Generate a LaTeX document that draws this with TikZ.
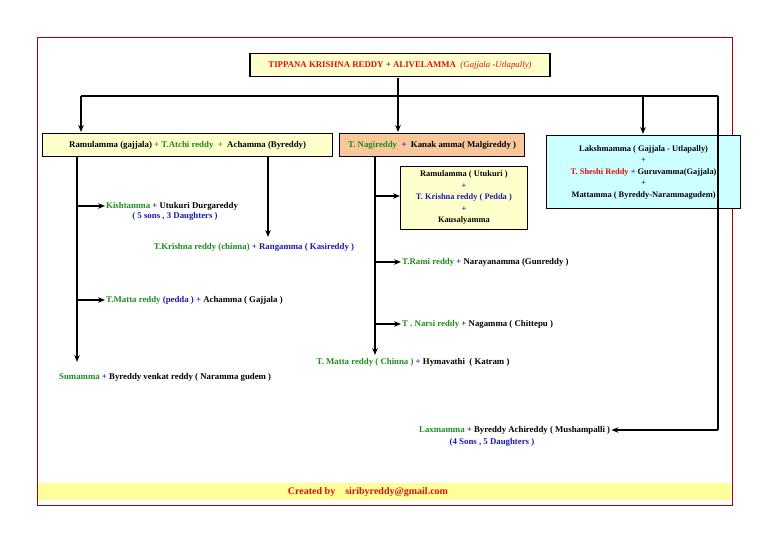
\documentclass[tikz,border=0pt]{standalone}
\usetikzlibrary{arrows.meta}
\usepackage{fontspec}
\setmainfont{Liberation Serif}
\definecolor{gr}{HTML}{1E8C1E}
\definecolor{bl}{HTML}{1A1AB0}
\definecolor{rd}{HTML}{E01010}
\definecolor{by}{HTML}{FFFFCC}
\definecolor{bo}{HTML}{F8C89C}
\definecolor{bc}{HTML}{CCFFFF}
\definecolor{fy}{HTML}{FFFF99}
\newcommand{\pl}{\textcolor{bl}{+}}
\begin{document}
\begin{tikzpicture}[x=1pt,y=-1pt,
  every node/.style={font=\fontsize{8.8}{10}\selectfont\bfseries,inner sep=1pt},
  box/.style={draw,line width=1.2pt,inner sep=3pt},
  stk/.style={font=\fontsize{8.4}{11.5}\selectfont\bfseries},
  ln/.style={line width=1.2pt},
  ar/.style={line width=1.2pt,-{Stealth[length=7pt,width=5.5pt]}}]
\useasboundingbox (0,0) rectangle (768,543);
\fill[white] (0,0) rectangle (768,543);
\draw[red!70!black,line width=0.6pt] (37,37) rectangle (732,505);
\fill[fy] (38,483) rectangle (731,500);
\node (foot) at (368,492) {\fontsize{10}{12}\selectfont\textcolor{rd}{Created by\quad siribyreddy@gmail.com}};
\node[box,fill=by,minimum width=300pt,minimum height=23pt] (top) at (400,65) {\textcolor{rd}{TIPPANA KRISHNA REDDY} \pl{} \textcolor{rd}{ALIVELAMMA}\ \ \textcolor{rd}{\mdseries\itshape (Gajjala -Utlapally)}};
\node[box,fill=by,minimum width=290pt,minimum height=23pt,anchor=north west] (L) at (42,133) {Ramulamma (gajjala) \textcolor{gr}{+} \textcolor{gr}{T.Atchi reddy} \ \textcolor{gr}{+} \ Achamma (Byreddy)};
\node[box,fill=bo,minimum width=185pt,minimum height=23pt,anchor=north west] (M) at (339,133) {\textcolor{gr}{T. Nagireddy} \ \pl{} \ Kanak amma( Malgireddy )};
\node[box,fill=bc,minimum width=194pt,minimum height=73pt,anchor=north west,align=center,stk] (R) at (546,135) {Lakshmamma ( Gajjala - Utlapally)\\ \pl\\ \textcolor{rd}{T. Sheshi Reddy} \pl{} Guruvamma(Gajjala)\\ \pl\\ Mattamma ( Byreddy-Narammagudem)};
\coordinate (tb) at (398,77.5);
\coordinate (hl) at (81,96); \coordinate (hr) at (718,96);
\draw[ln] (tb) -- (398,96);
\draw[ln] (hl) -- (hr);
\draw[ar] (hl) -- (81,132);
\draw[ar] (398,96) -- (398,132);
\draw[ar] (643,96) -- (643,134);
% left branch
\node[anchor=west] (k) at (105,206) {\textcolor{gr}{Kishtamma} \pl{} Utukuri Durgareddy};
\node (k2) at (175,216) {\textcolor{bl}{( 5 sons , 3 Daughters )}};
\node (tk) at (254,247) {\textcolor{gr}{T.Krishna reddy (chinna)} \pl{} \textcolor{bl}{Rangamma ( Kasireddy )}};
\node[anchor=west] (tm) at (105,300) {\textcolor{gr}{T.Matta reddy} \textcolor{bl}{(pedda )} \pl{} Achamma ( Gajjala )};
\node[anchor=west] (su) at (58,377) {\textcolor{gr}{Sumamma} \pl{} Byreddy venkat reddy ( Naramma gudem )};
\draw[ln] (77,156.5) -- (77,300);
\draw[ar] (77,300) -- (77,362);
\draw[ar] (77,206) -- (k.west);
\draw[ar] (77,300) -- (tm.west);
\draw[ar] (268,156.5) -- (268,237);
% middle branch
\node[box,line width=0.8pt,fill=by,minimum width=127pt,minimum height=63pt,anchor=north west,align=center,inner sep=2pt,stk] (mb) at (400,166) {Ramulamma ( Utukuri )\\ \pl\\ \textcolor{bl}{T. Krishna reddy ( Pedda )}\\ \pl\\ Kausalyamma};
\node[anchor=west] (tr) at (401,262) {\textcolor{gr}{T.Rami reddy} \pl{} Narayanamma (Gunreddy )};
\node[anchor=west] (tn) at (401,324) {\textcolor{gr}{T . Narsi reddy} \pl{} Nagamma ( Chittepu )};
\node (tmc) at (413,362) {\textcolor{gr}{T. Matta reddy ( Chinna )} \pl{} Hymavathi \ ( Katram )};
\draw[ln] (375,156.5) -- (375,324);
\draw[ar] (375,324) -- (375,355);
\draw[ar] (375,196) -- (mb.west |- 0,196);
\draw[ar] (375,262) -- (tr.west);
\draw[ar] (375,324) -- (tn.west);
% right branch
\node[anchor=west] (lx) at (418,430) {\textcolor{gr}{Laxmamma} \pl{} Byreddy Achireddy ( Mushampalli )};
\node (lx2) at (492,442) {\textcolor{bl}{(4 Sons , 5 Daughters )}};
\draw[ln] (hr) -- (718,430);
\draw[ar] (718,430) -- (lx.east);
\end{tikzpicture}
\end{document}
